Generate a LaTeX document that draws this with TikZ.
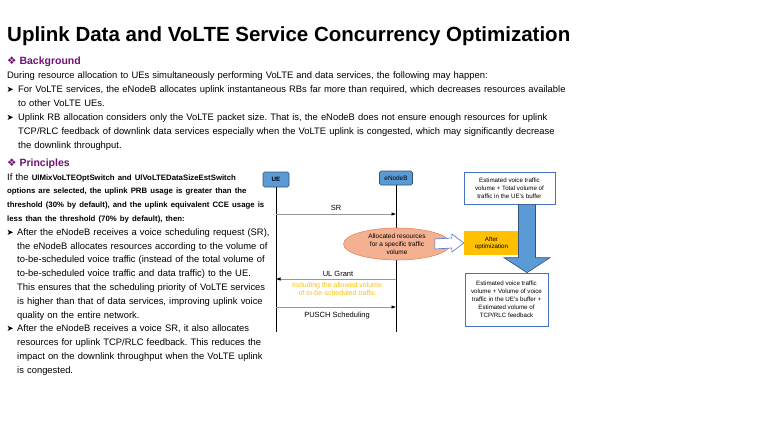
\documentclass[tikz,border=0pt]{standalone}
\usepackage{fontspec}
\setmainfont{Liberation Sans}
\newfontfamily\symfont{DejaVu Sans}
\usetikzlibrary{shapes,arrows.meta,positioning,calc}
\frenchspacing

\definecolor{headpurple}{RGB}{112,16,120}
\definecolor{boxblue}{RGB}{91,155,213}
\definecolor{boxedge}{RGB}{52,84,122}
\definecolor{lineblue}{RGB}{68,114,196}
\definecolor{gold}{RGB}{255,192,0}
\definecolor{salmon}{RGB}{244,177,146}
\definecolor{salmonedge}{RGB}{226,136,96}

\newcommand\condfont{\fontsize{7.8}{13.8}\selectfont\bfseries}

\begin{document}
\begin{tikzpicture}[x=1pt,y=-1pt,
    txt/.style={anchor=base west, inner sep=0pt, text width=600pt, align=left,
                font=\fontsize{9.4}{13.8}\selectfont},
    head/.style={anchor=base west, inner sep=0pt, text=headpurple,
                 font=\fontsize{10.5}{12}\selectfont\bfseries},
    bulletmk/.style={anchor=base west, inner sep=0pt, font=\symfont\fontsize{8.5}{9}\selectfont},
    lifebox/.style={draw=boxedge, fill=boxblue, rounded corners=1.5pt, inner sep=0pt,
                    line width=0.6pt},
    life/.style={line width=0.6pt},
    msg/.style={->, gray!80, line width=0.6pt},
    lbl/.style={inner sep=0pt, font=\fontsize{7.5}{8.7}\selectfont},
    wbox/.style={draw=lineblue, fill=white, line width=0.6pt, align=center, inner sep=0pt,
                 font=\fontsize{6.2}{8}\selectfont},
    >={Latex[length=4.5pt,width=3.5pt,black]}]
\useasboundingbox (0,0) rectangle (768,433);

% Title
\node[anchor=base west, inner sep=0pt, font=\fontsize{20.5}{24}\selectfont\bfseries]
    (title) at (7,42) {Uplink Data and VoLTE Service Concurrency Optimization};

% Background
\node[head] (bghead) at (7,65) {{\symfont ❖} Background};
\node[txt] (bgintro) at (7,79) {During resource allocation to UEs simultaneously performing VoLTE and data services, the following may happen:};
\node[txt] (bga) at (18,92.8) {For VoLTE services, the eNodeB allocates uplink instantaneous RBs far more than required, which decreases resources available\\
    to other VoLTE UEs.};
\node[txt] (bgb) at (18,120.4) {Uplink RB allocation considers only the VoLTE packet size. That is, the eNodeB does not ensure enough resources for uplink\\
    TCP/RLC feedback of downlink data services especially when the VoLTE uplink is congested, which may significantly decrease\\
    the downlink throughput.};

% Principles
\node[head] (prhead) at (7,166) {{\symfont ❖} Principles};
\node[txt] (prcond) at (7,180) {If the {\condfont UlMixVoLTEOptSwitch and UlVoLTEDataSizeEstSwitch}\\
    {\condfont options are selected, the uplink PRB usage is greater than the}\\
    {\condfont threshold (30\% by default), and the uplink equivalent CCE usage is}\\
    {\condfont less than the threshold (70\% by default), then:}};
\node[txt] (pra) at (17,235.2) {After the eNodeB receives a voice scheduling request (SR),\\
    the eNodeB allocates resources according to the volume of\\
    to-be-scheduled voice traffic (instead of the total volume of\\
    to-be-scheduled voice traffic and data traffic) to the UE.\\
    This ensures that the scheduling priority of VoLTE services\\
    is higher than that of data services, improving uplink voice\\
    quality on the entire network.};
\node[txt] (prb) at (17,331.8) {After the eNodeB receives a voice SR, it also allocates\\
    resources for uplink TCP/RLC feedback. This reduces the\\
    impact on the downlink throughput when the VoLTE uplink\\
    is congested.};

% bullet marks
\foreach \n/\y in {1/92.8,2/120.4,3/235.2,4/331.8}
    \node[bulletmk] (mk\n) at (6.5,\y) {➤};

% Sequence chart
\node[lifebox, minimum width=26, minimum height=15, font=\fontsize{6.2}{7}\selectfont\bfseries]
    (ue) at (276,179.5) {UE};
\node[lifebox, minimum width=33, minimum height=14, font=\fontsize{6.4}{7}\selectfont]
    (enb) at (396,178) {eNodeB};
\coordinate (bottom) at (0,332);
\coordinate (sr) at (0,214);
\coordinate (grant) at (0,279);
\coordinate (pusch) at (0,307);

\foreach \n in {ue,enb}
    \draw[life] (\n.south) -- (\n.south |- bottom);
\foreach \y/\a/\b in {sr/ue/enb, grant/enb/ue, pusch/ue/enb}
    \draw[msg] (\a |- \y) -- (\b |- \y);

\node[lbl] (srlbl) at (336,208) {SR};
\node[lbl] (grantlbl) at (338,274) {UL Grant};
\node[lbl, text=gold, align=center, font=\fontsize{7}{8.7}\selectfont]
    (grantnote) at (337,289) {Including the allowed volume\\of to-be-scheduled traffic};
\node[lbl] (puschlbl) at (337,315.5) {PUSCH Scheduling};

\node[ellipse, draw=salmonedge, fill=salmon, line width=0.6pt, minimum width=107,
      minimum height=32, inner sep=0pt, align=center, font=\fontsize{6.5}{8}\selectfont]
    (alloc) at (397,244) {Allocated resources\\for a specific traffic\\volume};

% right side
\node[fill=gold, minimum width=55, minimum height=24, inner sep=0pt, align=center,
      font=\fontsize{6.2}{7}\selectfont] (after) at (491.5,243) {After\\optimization};
\node[wbox, minimum width=91, minimum height=32] (est) at (509.5,188)
    {Estimated voice traffic\\volume + Total volume of\\traffic in the UE's buffer};
\node[wbox, minimum width=83, minimum height=53] (res) at (506.5,299.5)
    {Estimated voice traffic\\volume + Volume of voice\\traffic in the UE's buffer +\\Estimated volume of\\TCP/RLC feedback};

% hollow arrow
\coordinate (htip) at (after.west);
\coordinate (htail) at ($(alloc.east)+(-16,0)$);
\draw[lineblue, fill=white, line width=0.6pt]
    ($(htail)+(0,-5)$) -- ($(htip)+(-12,-5)$) -- ($(htip)+(-12,-9)$) -- (htip)
    -- ($(htip)+(-12,9)$) -- ($(htip)+(-12,5)$) -- ($(htail)+(0,5)$) -- cycle;

% blue down arrow
\coordinate (dtop) at ($(est.south)+(17.5,0)$);
\coordinate (dtip) at (dtop |- res.north);
\draw[boxedge, fill=boxblue, line width=0.6pt]
    ($(dtop)+(-8.5,0)$) -- ($(dtop)+(8.5,0)$) -- ($(dtip)+(8.5,-15)$) -- ($(dtip)+(23,-15)$)
    -- (dtip) -- ($(dtip)+(-23,-15)$) -- ($(dtip)+(-8.5,-15)$) -- cycle;
\end{tikzpicture}
\end{document}
